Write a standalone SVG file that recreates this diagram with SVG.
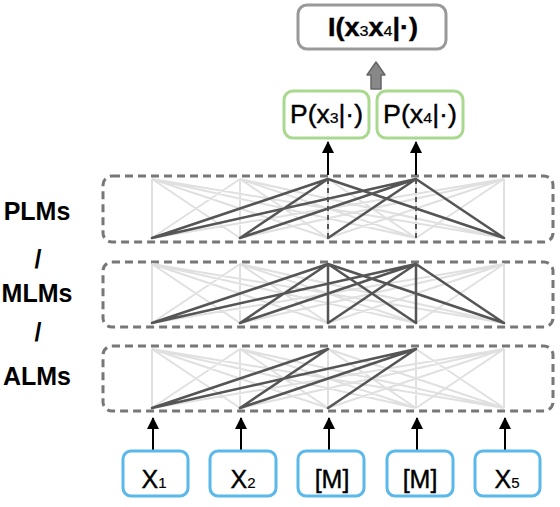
<svg xmlns="http://www.w3.org/2000/svg" width="560" height="507" viewBox="0 0 560 507">
<style>
text{font-family:"Liberation Sans",Arial,sans-serif;fill:#000}
.lbl{font-size:25px;font-weight:bold;text-anchor:middle}
.tok{font-size:25px;text-anchor:middle;stroke:#000;stroke-width:0.4}
.sub{font-size:15px;stroke-width:0.2}
.lt{stroke:#e0e0e0;stroke-width:2;fill:none}
.dk{stroke:#555;stroke-width:2.5;fill:none;stroke-linecap:round}
.dv{stroke:#555;stroke-width:2;stroke-dasharray:5 4;fill:none}
.layer{fill:none;stroke:#777;stroke-width:3;stroke-dasharray:8 5}
.inb{fill:#fff;stroke:#5bb8ea;stroke-width:3}
.pb{fill:#fff;stroke:#a9d98f;stroke-width:3}
.ib{fill:#fff;stroke:#999;stroke-width:3}
.ar{stroke:#000;stroke-width:2;fill:none}
</style>
<defs>
<marker id="ah" viewBox="0 0 12 12" refX="11" refY="6" markerWidth="12" markerHeight="12" markerUnits="userSpaceOnUse" orient="auto">
<path d="M0,0 L12,6 L0,12 z" fill="#000"/>
</marker>
<g id="full">
<path class="lt" d="M152,0 L152,59 M152,0 L240,59 M152,0 L328,59 M152,0 L416,59 M152,0 L504,59
M240,0 L152,59 M240,0 L240,59 M240,0 L328,59 M240,0 L416,59 M240,0 L504,59
M328,0 L152,59 M328,0 L240,59 M328,0 L328,59 M328,0 L416,59 M328,0 L504,59
M416,0 L152,59 M416,0 L240,59 M416,0 L328,59 M416,0 L416,59 M416,0 L504,59
M504,0 L152,59 M504,0 L240,59 M504,0 L328,59 M504,0 L416,59 M504,0 L504,59"/>
</g>
</defs>
<g id="labels">
<text class="lbl" x="37" y="220">PLMs</text>
<text class="lbl" x="38" y="268">/</text>
<text class="lbl" x="37" y="302">MLMs</text>
<text class="lbl" x="38" y="341">/</text>
<text class="lbl" x="37" y="385">ALMs</text>
</g>
<g id="layer-plm">
<rect class="layer" x="103" y="176" width="450" height="66" rx="9"/>
<use href="#full" y="179"/>
<path class="dk" d="M328,179 L152,238 M328,179 L240,238 M328,179 L504,238 M416,179 L152,238 M416,179 L240,238 M416,179 L328,238 M416,179 L504,238"/>
<path class="dv" d="M328,179 L328,238 M416,179 L416,238"/>
</g>
<g id="layer-mlm">
<rect class="layer" x="103" y="262" width="450" height="65" rx="9"/>
<use href="#full" y="264"/>
<path class="dk" d="M328,264 L152,323 M328,264 L240,323 M328,264 L328,323 M328,264 L416,323 M328,264 L504,323 M416,264 L152,323 M416,264 L240,323 M416,264 L328,323 M416,264 L416,323 M416,264 L504,323"/>
</g>
<g id="layer-alm">
<rect class="layer" x="103" y="346" width="450" height="65" rx="9"/>
<use href="#full" y="349"/>
<path class="dk" d="M328,349 L152,408 M328,349 L240,408 M416,349 L152,408 M416,349 L240,408 M416,349 L328,408"/>
</g>
<g id="connectors">
<path class="ar" marker-end="url(#ah)" d="M153,451 L153,418"/>
<path class="ar" marker-end="url(#ah)" d="M241,451 L241,418"/>
<path class="ar" marker-end="url(#ah)" d="M329,451 L329,418"/>
<path class="ar" marker-end="url(#ah)" d="M417,451 L417,418"/>
<path class="ar" marker-end="url(#ah)" d="M505,451 L505,418"/>
<path class="ar" marker-end="url(#ah)" d="M328,175 L328,142"/>
<path class="ar" marker-end="url(#ah)" d="M416,175 L416,142"/>
<path d="M376,62 L385,75 L381,75 L381,89 L371,89 L371,75 L367,75 Z" fill="#888" stroke="#666" stroke-width="1.5" stroke-linejoin="round"/>
</g>
<g id="node-x1"><rect class="inb" x="123" y="451" width="65" height="45" rx="8"/><text class="tok" x="154" y="488">X<tspan class="sub">1</tspan></text></g>
<g id="node-x2"><rect class="inb" x="210" y="451" width="66" height="45" rx="8"/><text class="tok" x="243" y="488">X<tspan class="sub">2</tspan></text></g>
<g id="node-m3"><rect class="inb" x="298" y="451" width="66" height="45" rx="8"/><text class="tok" x="332" y="488">[M]</text></g>
<g id="node-m4"><rect class="inb" x="387" y="451" width="66" height="45" rx="8"/><text class="tok" x="420" y="488">[M]</text></g>
<g id="node-x5"><rect class="inb" x="475" y="451" width="65" height="45" rx="8"/><text class="tok" x="507" y="488">X<tspan class="sub">5</tspan></text></g>
<g id="node-p3"><rect class="pb" x="284" y="91" width="85" height="47" rx="9"/><text class="tok" x="326.5" y="123" font-size="24" textLength="73" lengthAdjust="spacingAndGlyphs">P(x<tspan class="sub">3</tspan>|·)</text></g>
<g id="node-p4"><rect class="pb" x="377" y="91" width="86" height="47" rx="9"/><text class="tok" x="420" y="123" font-size="24" textLength="74" lengthAdjust="spacingAndGlyphs">P(x<tspan class="sub">4</tspan>|·)</text></g>
<g id="node-i"><rect class="ib" x="298" y="5" width="148" height="44" rx="9"/><text class="tok" x="373" y="36" font-weight="bold" font-size="21" stroke-width="0" textLength="90" lengthAdjust="spacingAndGlyphs">I(x<tspan class="sub" font-weight="normal">3</tspan>x<tspan class="sub" font-weight="normal">4</tspan>|·)</text></g>
</svg>
